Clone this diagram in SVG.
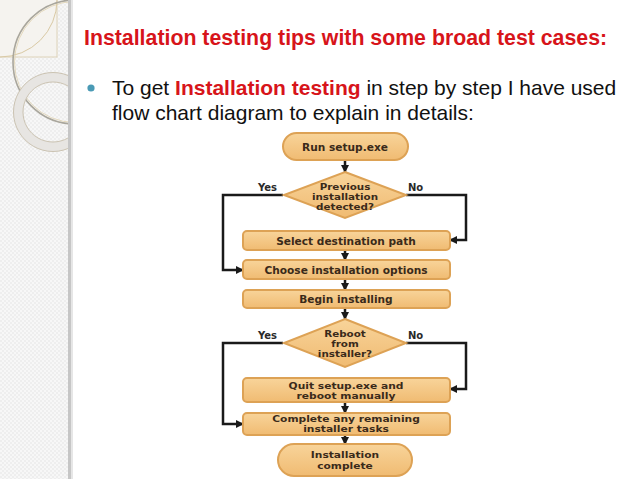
<svg xmlns="http://www.w3.org/2000/svg" width="638" height="479" viewBox="0 0 638 479">
<defs>
<pattern id="chk" width="4" height="4" patternUnits="userSpaceOnUse">
<rect width="4" height="4" fill="#f7f7f7"/>
<rect width="2" height="2" fill="#eeeeee"/>
<rect x="2" y="2" width="2" height="2" fill="#eeeeee"/>
</pattern>
<clipPath id="panel"><rect x="0" y="0" width="68" height="479"/></clipPath>
<linearGradient id="boxg" x1="0" y1="0" x2="0" y2="1">
<stop offset="0" stop-color="#F8D49A"/>
<stop offset="1" stop-color="#F0BB72"/>
</linearGradient>
<marker id="ah" viewBox="0 0 8 8" refX="7" refY="4" markerWidth="8" markerHeight="8" orient="auto" markerUnits="userSpaceOnUse">
<path d="M0,0 L8,4 L0,8 z" fill="#1a1a1a"/>
</marker>
<style>
.shape{fill:url(#boxg);stroke:#DDA255;stroke-width:2}
.ft{font-family:"DejaVu Sans",sans-serif;font-weight:bold;font-size:10.6px;fill:#3a2a1a;text-anchor:middle}
.st{font-family:"DejaVu Sans",sans-serif;font-weight:bold;font-size:8.5px;fill:#3a2a1a;text-anchor:middle}
.lbl{font-family:"DejaVu Sans",sans-serif;font-weight:bold;font-size:10px;fill:#2a2a2a}
.conn{fill:none;stroke:#1a1a1a;stroke-width:2.5;marker-end:url(#ah)}
.body{font-family:"Liberation Sans",Arial,sans-serif;font-size:21px;fill:#111}
.red{fill:#D7141A;font-weight:bold}
</style>
</defs>
<rect width="638" height="479" fill="#ffffff"/>
<g id="sidebar">
<rect x="0" y="0" width="68" height="479" fill="url(#chk)"/>
<g clip-path="url(#panel)">
<rect x="-1" y="-1" width="58" height="58" fill="#f5f3ef" stroke="#ddd2b8" stroke-width="1"/>
<path d="M57,0 A57,57 0 0 1 0,57" fill="none" stroke="#d9c9a4" stroke-width="1"/>
<circle cx="75" cy="62" r="62" fill="none" stroke="#a9a69c" stroke-width="1.6"/>
<circle cx="75" cy="62" r="60.5" fill="none" stroke="#e0d2b0" stroke-width="0.8"/>
<path d="M53,72.5 a39.5,39.5 0 1 0 0.01,0 z M53,82 a30,30 0 1 1 -0.01,0 z" fill="#e7e5e2" fill-rule="evenodd" stroke="#cbc3b2" stroke-width="1"/>
</g>
<rect x="68" y="0" width="3" height="479" fill="#c6c6c6"/>
<rect x="71" y="0" width="2" height="479" fill="#e6e6e6"/>
</g>
<g id="title">
<text class="body red" x="84" y="45" style="font-size:21.3px">Installation testing tips with some broad test cases:</text>
</g>
<g id="bullet">
<circle cx="91" cy="88" r="3.6" fill="#4A9AB5"/>
<text class="body" x="112" y="95">To get <tspan class="red">Installation testing</tspan> in step by step I have used</text>
<text class="body" x="112" y="120">flow chart diagram to explain in details:</text>
</g>
<g id="connectors">
<path class="conn" d="M345,160 L345,172"/>
<path class="conn" d="M283,195 L223,195 L223,270 L243,270"/>
<path class="conn" d="M406,195 L466,195 L466,240 L450,240"/>
<path class="conn" d="M345,250 L345,260"/>
<path class="conn" d="M345,279 L345,290"/>
<path class="conn" d="M345,308 L345,319"/>
<path class="conn" d="M283,343 L223,343 L223,424 L243,424"/>
<path class="conn" d="M406,343 L466,343 L466,389 L450,389"/>
<path class="conn" d="M345,402 L345,413"/>
<path class="conn" d="M345,435 L345,444"/>
<text class="lbl" x="258" y="191">Yes</text>
<text class="lbl" x="408" y="191">No</text>
<text class="lbl" x="258" y="339">Yes</text>
<text class="lbl" x="408" y="339">No</text>
</g>
<g id="run">
<rect class="shape" x="283" y="133" width="125" height="27" rx="13.5"/>
<text class="ft" x="345" y="150.5">Run setup.exe</text>
</g>
<g id="prev">
<path class="shape" d="M345,172 L406,195 L345,218 L284,195 z"/>
<text class="st" transform="translate(345,190) scale(1.22,1)">Previous</text>
<text class="st" transform="translate(345,200) scale(1.22,1)">installation</text>
<text class="st" transform="translate(345,210) scale(1.22,1)">detected?</text>
</g>
<g id="select">
<rect class="shape" x="243" y="231" width="207" height="19" rx="4"/>
<text class="ft" x="346" y="244.5">Select destination path</text>
</g>
<g id="choose">
<rect class="shape" x="243" y="260" width="207" height="19" rx="4"/>
<text class="ft" x="346" y="273.5">Choose installation options</text>
</g>
<g id="begin">
<rect class="shape" x="243" y="290" width="207" height="18" rx="4"/>
<text class="ft" x="346" y="303">Begin installing</text>
</g>
<g id="reboot">
<path class="shape" d="M345,319 L406,343 L345,367 L284,343 z"/>
<text class="st" transform="translate(345,336.5) scale(1.22,1)">Reboot</text>
<text class="st" transform="translate(345,346.5) scale(1.22,1)">from</text>
<text class="st" transform="translate(345,356.5) scale(1.22,1)">installer?</text>
</g>
<g id="quit">
<rect class="shape" x="243" y="378" width="207" height="24" rx="4"/>
<text class="st" transform="translate(346,388.5) scale(1.26,1)">Quit setup.exe and</text>
<text class="st" transform="translate(346,398.5) scale(1.26,1)">reboot manually</text>
</g>
<g id="complete">
<rect class="shape" x="243" y="413" width="207" height="22" rx="4"/>
<text class="st" transform="translate(346,422) scale(1.26,1)">Complete any remaining</text>
<text class="st" transform="translate(346,432) scale(1.26,1)">installer tasks</text>
</g>
<g id="done">
<rect class="shape" x="278" y="444" width="134" height="32" rx="16"/>
<text class="st" style="font-size:9.2px" transform="translate(345,458) scale(1.16,1)">Installation</text>
<text class="st" style="font-size:9.2px" transform="translate(345,469) scale(1.16,1)">complete</text>
</g>
</svg>
